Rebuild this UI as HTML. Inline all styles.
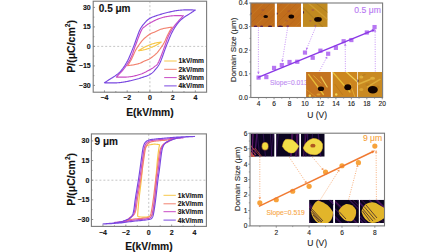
<!DOCTYPE html><html><head><meta charset="utf-8"><style>html,body{margin:0;padding:0;background:#fff;width:448px;height:252px;overflow:hidden;position:relative}</style></head><body><svg width="448" height="252" viewBox="0 0 448 252" style="position:absolute;left:0;top:0"><rect width="448" height="252" fill="#fff"/><g><line x1="93.2" y1="46.4" x2="206.6" y2="46.4" stroke="#b8b8b8" stroke-width="0.8" stroke-dasharray="2 2"/><line x1="149.9" y1="1.2" x2="149.9" y2="92.2" stroke="#b8b8b8" stroke-width="0.8" stroke-dasharray="2 2"/><path d="M161.26 42.11 L160.69 42.17 L160.12 42.23 L159.56 42.3 L158.99 42.38 L158.42 42.47 L157.85 42.57 L157.28 42.67 L156.72 42.79 L156.15 42.91 L155.58 43.04 L155.01 43.17 L154.44 43.32 L153.88 43.47 L153.31 43.63 L152.74 43.8 L152.17 43.98 L151.6 44.17 L151.04 44.36 L150.47 44.56 L149.9 44.77 L149.33 44.99 L148.76 45.22 L148.2 45.46 L147.63 45.7 L147.06 45.95 L146.49 46.21 L145.92 46.48 L145.36 46.75 L144.79 47.03 L144.22 47.33 L143.65 47.63 L143.08 47.93 L142.52 48.25 L141.95 48.57 L141.38 48.91 L140.81 49.25 L140.24 49.6 L139.68 49.95 L139.11 50.32 L138.54 50.69 L139.11 50.63 L139.68 50.57 L140.24 50.5 L140.81 50.42 L141.38 50.33 L141.95 50.23 L142.52 50.13 L143.08 50.01 L143.65 49.89 L144.22 49.76 L144.79 49.63 L145.36 49.48 L145.92 49.33 L146.49 49.17 L147.06 49 L147.63 48.82 L148.2 48.63 L148.76 48.44 L149.33 48.24 L149.9 48.02 L150.47 47.81 L151.04 47.58 L151.6 47.34 L152.17 47.1 L152.74 46.85 L153.31 46.59 L153.88 46.32 L154.44 46.05 L155.01 45.77 L155.58 45.47 L156.15 45.17 L156.72 44.87 L157.28 44.55 L157.85 44.23 L158.42 43.89 L158.99 43.55 L159.56 43.2 L160.12 42.85 L160.69 42.48 Z" fill="none" stroke="#f7c84a" stroke-width="1.15" stroke-linejoin="round"/><path d="M172.17 27.16 L171.78 27.21 L171.29 27.28 L170.7 27.35 L170.05 27.43 L169.34 27.53 L168.6 27.62 L167.86 27.73 L167.13 27.84 L166.44 27.95 L165.8 28.07 L165.21 28.19 L164.62 28.31 L164.04 28.43 L163.47 28.55 L162.9 28.69 L162.34 28.83 L161.78 28.98 L161.23 29.14 L160.68 29.31 L160.12 29.5 L159.57 29.71 L159.03 29.93 L158.48 30.17 L157.94 30.43 L157.4 30.69 L156.87 30.95 L156.34 31.22 L155.82 31.48 L155.3 31.73 L154.78 31.97 L154.29 32.19 L153.81 32.38 L153.35 32.55 L152.89 32.72 L152.43 32.89 L151.97 33.07 L151.49 33.29 L150.99 33.53 L150.46 33.83 L149.9 34.18 L149.29 34.59 L148.63 35.04 L147.94 35.54 L147.23 36.07 L146.51 36.63 L145.78 37.21 L145.06 37.8 L144.37 38.41 L143.71 39.03 L143.08 39.64 L142.49 40.27 L141.92 40.94 L141.35 41.63 L140.81 42.34 L140.28 43.06 L139.77 43.77 L139.28 44.47 L138.82 45.15 L138.38 45.8 L137.97 46.4 L137.6 46.95 L137.27 47.44 L136.98 47.89 L136.71 48.31 L136.46 48.73 L136.22 49.15 L135.97 49.6 L135.71 50.08 L135.44 50.61 L135.13 51.21 L134.8 51.88 L134.46 52.62 L134.11 53.4 L133.75 54.23 L133.38 55.07 L133.01 55.92 L132.63 56.77 L132.25 57.6 L131.87 58.39 L131.5 59.14 L131.1 59.88 L130.68 60.64 L130.23 61.4 L129.78 62.15 L129.34 62.89 L128.91 63.58 L128.52 64.21 L128.16 64.78 L127.87 65.26 L127.63 65.64 L127.63 65.64 L128.02 65.59 L128.51 65.52 L129.1 65.45 L129.75 65.37 L130.46 65.27 L131.2 65.18 L131.94 65.07 L132.67 64.96 L133.36 64.85 L134 64.73 L134.59 64.61 L135.18 64.49 L135.76 64.37 L136.33 64.25 L136.9 64.11 L137.46 63.97 L138.02 63.82 L138.57 63.66 L139.12 63.49 L139.68 63.3 L140.23 63.09 L140.77 62.87 L141.32 62.63 L141.86 62.37 L142.4 62.11 L142.93 61.85 L143.46 61.58 L143.98 61.32 L144.5 61.07 L145.02 60.83 L145.51 60.61 L145.99 60.42 L146.45 60.25 L146.91 60.08 L147.37 59.91 L147.83 59.73 L148.31 59.51 L148.81 59.27 L149.34 58.97 L149.9 58.62 L150.51 58.21 L151.17 57.76 L151.86 57.26 L152.57 56.73 L153.29 56.17 L154.02 55.59 L154.74 55 L155.43 54.39 L156.09 53.77 L156.72 53.16 L157.31 52.53 L157.88 51.86 L158.45 51.17 L158.99 50.46 L159.52 49.74 L160.03 49.03 L160.52 48.33 L160.98 47.65 L161.42 47 L161.83 46.4 L162.2 45.85 L162.53 45.36 L162.82 44.91 L163.09 44.49 L163.34 44.07 L163.58 43.65 L163.83 43.2 L164.09 42.72 L164.36 42.19 L164.67 41.59 L165 40.92 L165.34 40.18 L165.69 39.4 L166.05 38.57 L166.42 37.73 L166.79 36.88 L167.17 36.03 L167.55 35.2 L167.93 34.41 L168.3 33.66 L168.7 32.92 L169.12 32.16 L169.57 31.4 L170.02 30.65 L170.46 29.91 L170.89 29.22 L171.28 28.59 L171.64 28.02 L171.93 27.54 L172.17 27.16 Z" fill="none" stroke="#f2826f" stroke-width="1.15" stroke-linejoin="round"/><path d="M183.41 15.72 L182.83 15.72 L182.07 15.7 L181.17 15.69 L180.16 15.67 L179.08 15.65 L177.96 15.65 L176.83 15.64 L175.73 15.65 L174.7 15.68 L173.76 15.72 L172.89 15.78 L172.06 15.84 L171.25 15.91 L170.45 16 L169.67 16.09 L168.9 16.2 L168.14 16.32 L167.37 16.45 L166.59 16.6 L165.8 16.76 L165.01 16.93 L164.21 17.12 L163.42 17.31 L162.62 17.52 L161.83 17.74 L161.03 17.98 L160.24 18.23 L159.44 18.5 L158.65 18.79 L157.85 19.1 L157.04 19.44 L156.21 19.81 L155.36 20.22 L154.51 20.64 L153.66 21.07 L152.84 21.51 L152.04 21.94 L151.27 22.36 L150.56 22.76 L149.9 23.13 L149.31 23.47 L148.76 23.77 L148.27 24.06 L147.81 24.34 L147.38 24.61 L146.97 24.88 L146.57 25.16 L146.17 25.46 L145.77 25.77 L145.36 26.12 L144.95 26.44 L144.56 26.71 L144.19 26.94 L143.83 27.18 L143.47 27.45 L143.11 27.79 L142.72 28.22 L142.31 28.78 L141.87 29.5 L141.38 30.41 L140.83 31.56 L140.23 32.96 L139.58 34.55 L138.91 36.28 L138.22 38.08 L137.54 39.91 L136.87 41.71 L136.24 43.43 L135.65 45.01 L135.13 46.4 L134.68 47.62 L134.28 48.74 L133.92 49.78 L133.6 50.75 L133.29 51.66 L133 52.54 L132.71 53.38 L132.4 54.21 L132.08 55.04 L131.72 55.89 L131.35 56.74 L130.96 57.56 L130.57 58.36 L130.17 59.15 L129.76 59.91 L129.35 60.66 L128.93 61.4 L128.51 62.13 L128.07 62.85 L127.63 63.56 L127.19 64.26 L126.75 64.93 L126.31 65.58 L125.86 66.22 L125.4 66.85 L124.93 67.48 L124.44 68.11 L123.94 68.75 L123.41 69.39 L122.86 70.06 L122.26 70.77 L121.57 71.54 L120.84 72.35 L120.08 73.17 L119.33 73.98 L118.59 74.75 L117.91 75.47 L117.3 76.12 L116.78 76.66 L116.39 77.08 L116.39 77.08 L116.97 77.08 L117.73 77.1 L118.63 77.11 L119.64 77.13 L120.72 77.15 L121.84 77.15 L122.97 77.16 L124.07 77.15 L125.1 77.12 L126.04 77.08 L126.91 77.02 L127.74 76.96 L128.55 76.89 L129.35 76.8 L130.13 76.71 L130.9 76.6 L131.66 76.48 L132.43 76.35 L133.21 76.2 L134 76.04 L134.79 75.87 L135.59 75.68 L136.38 75.49 L137.18 75.28 L137.97 75.06 L138.77 74.82 L139.56 74.57 L140.36 74.3 L141.15 74.01 L141.95 73.7 L142.76 73.36 L143.59 72.99 L144.44 72.58 L145.29 72.16 L146.14 71.73 L146.96 71.29 L147.76 70.86 L148.53 70.44 L149.24 70.04 L149.9 69.67 L150.49 69.33 L151.04 69.03 L151.53 68.74 L151.99 68.46 L152.42 68.19 L152.83 67.92 L153.23 67.64 L153.63 67.34 L154.03 67.03 L154.44 66.68 L154.85 66.36 L155.24 66.09 L155.61 65.86 L155.97 65.62 L156.33 65.35 L156.69 65.01 L157.08 64.58 L157.49 64.02 L157.93 63.3 L158.42 62.39 L158.97 61.24 L159.57 59.84 L160.22 58.25 L160.89 56.52 L161.58 54.72 L162.26 52.89 L162.93 51.09 L163.56 49.37 L164.15 47.79 L164.67 46.4 L165.12 45.18 L165.52 44.06 L165.88 43.02 L166.2 42.05 L166.51 41.13 L166.8 40.26 L167.09 39.42 L167.4 38.59 L167.72 37.76 L168.08 36.91 L168.45 36.06 L168.84 35.24 L169.23 34.44 L169.63 33.65 L170.04 32.89 L170.45 32.14 L170.87 31.4 L171.29 30.67 L171.73 29.95 L172.17 29.24 L172.61 28.54 L173.05 27.87 L173.49 27.22 L173.94 26.58 L174.4 25.95 L174.87 25.32 L175.36 24.69 L175.86 24.05 L176.39 23.41 L176.94 22.74 L177.54 22.03 L178.23 21.26 L178.96 20.45 L179.72 19.63 L180.47 18.82 L181.21 18.05 L181.89 17.33 L182.5 16.68 L183.02 16.14 L183.41 15.72 Z" fill="none" stroke="#c94cc4" stroke-width="1.15" stroke-linejoin="round"/><path d="M195.34 10 L194.79 9.99 L194.09 9.97 L193.25 9.95 L192.3 9.93 L191.29 9.9 L190.24 9.88 L189.18 9.87 L188.14 9.86 L187.16 9.86 L186.25 9.87 L185.42 9.89 L184.61 9.91 L183.82 9.94 L183.04 9.98 L182.28 10.02 L181.51 10.07 L180.73 10.13 L179.94 10.2 L179.14 10.29 L178.3 10.39 L177.44 10.51 L176.56 10.64 L175.67 10.78 L174.77 10.94 L173.86 11.1 L172.94 11.28 L172.02 11.47 L171.08 11.67 L170.15 11.87 L169.21 12.08 L168.27 12.3 L167.32 12.53 L166.36 12.76 L165.39 13 L164.42 13.26 L163.45 13.52 L162.47 13.79 L161.5 14.08 L160.52 14.37 L159.56 14.68 L158.57 14.99 L157.56 15.32 L156.53 15.65 L155.5 15.99 L154.48 16.34 L153.48 16.7 L152.5 17.08 L151.58 17.48 L150.7 17.89 L149.9 18.32 L149.17 18.77 L148.49 19.23 L147.87 19.71 L147.29 20.2 L146.75 20.71 L146.23 21.23 L145.72 21.78 L145.23 22.34 L144.73 22.92 L144.22 23.52 L143.72 24.11 L143.24 24.67 L142.79 25.21 L142.34 25.77 L141.91 26.36 L141.47 27.01 L141.02 27.73 L140.56 28.54 L140.07 29.47 L139.56 30.54 L139.02 31.78 L138.46 33.18 L137.88 34.71 L137.29 36.33 L136.69 38.03 L136.08 39.76 L135.47 41.5 L134.86 43.2 L134.25 44.85 L133.66 46.4 L133.07 47.9 L132.48 49.39 L131.89 50.88 L131.31 52.35 L130.72 53.8 L130.14 55.22 L129.55 56.6 L128.95 57.94 L128.35 59.22 L127.75 60.44 L127.13 61.61 L126.51 62.74 L125.88 63.82 L125.25 64.87 L124.61 65.87 L123.97 66.82 L123.34 67.73 L122.72 68.6 L122.1 69.42 L121.5 70.19 L120.91 70.9 L120.33 71.55 L119.75 72.13 L119.19 72.67 L118.62 73.17 L118.06 73.64 L117.51 74.09 L116.95 74.52 L116.39 74.95 L115.82 75.39 L115.25 75.82 L114.68 76.22 L114.12 76.59 L113.55 76.95 L112.98 77.3 L112.41 77.64 L111.84 77.98 L111.28 78.32 L110.71 78.67 L110.14 79.03 L109.55 79.42 L108.91 79.84 L108.26 80.27 L107.6 80.71 L106.95 81.14 L106.32 81.56 L105.75 81.94 L105.23 82.29 L104.8 82.58 L104.46 82.8 L104.46 82.8 L105.01 82.81 L105.71 82.83 L106.55 82.85 L107.5 82.87 L108.51 82.9 L109.56 82.92 L110.62 82.93 L111.66 82.94 L112.64 82.94 L113.55 82.93 L114.38 82.91 L115.19 82.89 L115.98 82.86 L116.76 82.82 L117.52 82.78 L118.29 82.73 L119.07 82.67 L119.86 82.6 L120.66 82.51 L121.5 82.41 L122.36 82.29 L123.24 82.16 L124.13 82.02 L125.03 81.86 L125.94 81.69 L126.86 81.52 L127.78 81.33 L128.72 81.13 L129.65 80.93 L130.59 80.72 L131.53 80.5 L132.48 80.27 L133.44 80.04 L134.41 79.8 L135.38 79.54 L136.35 79.28 L137.33 79.01 L138.3 78.72 L139.28 78.43 L140.24 78.12 L141.23 77.81 L142.24 77.48 L143.27 77.15 L144.3 76.81 L145.32 76.46 L146.32 76.1 L147.3 75.72 L148.22 75.32 L149.1 74.91 L149.9 74.48 L150.63 74.03 L151.31 73.57 L151.93 73.09 L152.51 72.6 L153.05 72.09 L153.57 71.57 L154.08 71.02 L154.57 70.46 L155.07 69.88 L155.58 69.28 L156.08 68.69 L156.56 68.13 L157.01 67.59 L157.46 67.03 L157.89 66.44 L158.33 65.79 L158.78 65.07 L159.24 64.26 L159.73 63.33 L160.24 62.26 L160.78 61.02 L161.34 59.62 L161.92 58.09 L162.51 56.47 L163.11 54.77 L163.72 53.04 L164.33 51.3 L164.94 49.6 L165.55 47.95 L166.14 46.4 L166.73 44.9 L167.32 43.41 L167.91 41.92 L168.49 40.45 L169.08 39 L169.66 37.58 L170.25 36.2 L170.85 34.86 L171.45 33.58 L172.05 32.36 L172.67 31.19 L173.29 30.06 L173.92 28.98 L174.55 27.93 L175.19 26.93 L175.83 25.98 L176.46 25.07 L177.08 24.2 L177.7 23.38 L178.3 22.61 L178.89 21.9 L179.47 21.25 L180.05 20.67 L180.61 20.13 L181.18 19.63 L181.74 19.16 L182.29 18.71 L182.85 18.28 L183.41 17.85 L183.98 17.41 L184.55 16.98 L185.12 16.58 L185.68 16.21 L186.25 15.85 L186.82 15.5 L187.39 15.16 L187.96 14.82 L188.52 14.48 L189.09 14.13 L189.66 13.77 L190.25 13.38 L190.89 12.96 L191.54 12.53 L192.2 12.09 L192.86 11.66 L193.48 11.24 L194.05 10.86 L194.57 10.51 L195 10.22 L195.34 10 Z" fill="none" stroke="#7a48e0" stroke-width="1.15" stroke-linejoin="round"/><rect x="93.2" y="1.2" width="113.4" height="91" fill="none" stroke="#7a7a7a" stroke-width="1.1"/><line x1="93.2" y1="85.4" x2="95" y2="85.4" stroke="#7a7a7a" stroke-width="0.8"/><text x="90.7" y="87.9" text-anchor="end" font-size="7" font-weight="bold" font-family="'Liberation Sans', sans-serif" fill="#111" stroke="#111" stroke-width="0.12">−30</text><line x1="93.2" y1="65.9" x2="95" y2="65.9" stroke="#7a7a7a" stroke-width="0.8"/><text x="90.7" y="68.4" text-anchor="end" font-size="7" font-weight="bold" font-family="'Liberation Sans', sans-serif" fill="#111" stroke="#111" stroke-width="0.12">−15</text><line x1="93.2" y1="46.4" x2="95" y2="46.4" stroke="#7a7a7a" stroke-width="0.8"/><text x="90.7" y="48.9" text-anchor="end" font-size="7" font-weight="bold" font-family="'Liberation Sans', sans-serif" fill="#111" stroke="#111" stroke-width="0.12">0</text><line x1="93.2" y1="26.9" x2="95" y2="26.9" stroke="#7a7a7a" stroke-width="0.8"/><text x="90.7" y="29.4" text-anchor="end" font-size="7" font-weight="bold" font-family="'Liberation Sans', sans-serif" fill="#111" stroke="#111" stroke-width="0.12">15</text><line x1="93.2" y1="7.4" x2="95" y2="7.4" stroke="#7a7a7a" stroke-width="0.8"/><text x="90.7" y="9.9" text-anchor="end" font-size="7" font-weight="bold" font-family="'Liberation Sans', sans-serif" fill="#111" stroke="#111" stroke-width="0.12">30</text><line x1="93.2" y1="75.65" x2="94.4" y2="75.65" stroke="#7a7a7a" stroke-width="0.7"/><line x1="93.2" y1="56.15" x2="94.4" y2="56.15" stroke="#7a7a7a" stroke-width="0.7"/><line x1="93.2" y1="36.65" x2="94.4" y2="36.65" stroke="#7a7a7a" stroke-width="0.7"/><line x1="93.2" y1="17.15" x2="94.4" y2="17.15" stroke="#7a7a7a" stroke-width="0.7"/><line x1="104.46" y1="92.2" x2="104.46" y2="90.4" stroke="#7a7a7a" stroke-width="0.8"/><text x="104.46" y="100.3" text-anchor="middle" font-size="7" font-weight="bold" font-family="'Liberation Sans', sans-serif" fill="#111" stroke="#111" stroke-width="0.12">−4</text><line x1="127.18" y1="92.2" x2="127.18" y2="90.4" stroke="#7a7a7a" stroke-width="0.8"/><text x="127.18" y="100.3" text-anchor="middle" font-size="7" font-weight="bold" font-family="'Liberation Sans', sans-serif" fill="#111" stroke="#111" stroke-width="0.12">−2</text><line x1="149.9" y1="92.2" x2="149.9" y2="90.4" stroke="#7a7a7a" stroke-width="0.8"/><text x="149.9" y="100.3" text-anchor="middle" font-size="7" font-weight="bold" font-family="'Liberation Sans', sans-serif" fill="#111" stroke="#111" stroke-width="0.12">0</text><line x1="172.62" y1="92.2" x2="172.62" y2="90.4" stroke="#7a7a7a" stroke-width="0.8"/><text x="172.62" y="100.3" text-anchor="middle" font-size="7" font-weight="bold" font-family="'Liberation Sans', sans-serif" fill="#111" stroke="#111" stroke-width="0.12">2</text><line x1="195.34" y1="92.2" x2="195.34" y2="90.4" stroke="#7a7a7a" stroke-width="0.8"/><text x="195.34" y="100.3" text-anchor="middle" font-size="7" font-weight="bold" font-family="'Liberation Sans', sans-serif" fill="#111" stroke="#111" stroke-width="0.12">4</text><line x1="115.82" y1="92.2" x2="115.82" y2="91" stroke="#7a7a7a" stroke-width="0.7"/><line x1="138.54" y1="92.2" x2="138.54" y2="91" stroke="#7a7a7a" stroke-width="0.7"/><line x1="161.26" y1="92.2" x2="161.26" y2="91" stroke="#7a7a7a" stroke-width="0.7"/><line x1="183.98" y1="92.2" x2="183.98" y2="91" stroke="#7a7a7a" stroke-width="0.7"/><text x="98.8" y="12.2" font-size="10" font-weight="bold" font-family="'Liberation Sans', sans-serif" fill="#111" stroke="#111" stroke-width="0.12">0.5 μm</text><line x1="164.2" y1="61" x2="176.7" y2="61" stroke="#f7c84a" stroke-width="1"/><text x="178.6" y="63.4" font-size="6.6" font-weight="bold" font-family="'Liberation Sans', sans-serif" fill="#111" stroke="#111" stroke-width="0.12">1kV/mm</text><line x1="164.2" y1="69.3" x2="176.7" y2="69.3" stroke="#f2826f" stroke-width="1"/><text x="178.6" y="71.7" font-size="6.6" font-weight="bold" font-family="'Liberation Sans', sans-serif" fill="#111" stroke="#111" stroke-width="0.12">2kV/mm</text><line x1="164.2" y1="77.6" x2="176.7" y2="77.6" stroke="#c94cc4" stroke-width="1"/><text x="178.6" y="80" font-size="6.6" font-weight="bold" font-family="'Liberation Sans', sans-serif" fill="#111" stroke="#111" stroke-width="0.12">3kV/mm</text><line x1="164.2" y1="85.9" x2="176.7" y2="85.9" stroke="#7a48e0" stroke-width="1"/><text x="178.6" y="88.3" font-size="6.6" font-weight="bold" font-family="'Liberation Sans', sans-serif" fill="#111" stroke="#111" stroke-width="0.12">4kV/mm</text><text transform="translate(71.6 46.4) rotate(-90)" x="0" y="3.8" text-anchor="middle" font-size="10.5" font-weight="bold" font-family="'Liberation Sans', sans-serif" fill="#111" stroke="#111" stroke-width="0.12">P/(μC/cm<tspan font-size="6.5" dy="-5">2</tspan><tspan dy="5">)</tspan></text><text x="149.9" y="116.3" text-anchor="middle" font-size="10.3" font-weight="bold" font-family="'Liberation Sans', sans-serif" fill="#111" stroke="#111" stroke-width="0.12">E(kV/mm)</text></g><g><line x1="91.4" y1="180.2" x2="206.4" y2="180.2" stroke="#b8b8b8" stroke-width="0.8" stroke-dasharray="2 2"/><line x1="148.75" y1="133.9" x2="148.75" y2="226.4" stroke="#b8b8b8" stroke-width="0.8" stroke-dasharray="2 2"/><path d="M159.63 144.7 L159.29 144.66 L158.87 144.6 L158.36 144.52 L157.8 144.43 L157.19 144.35 L156.54 144.27 L155.88 144.2 L155.21 144.16 L154.54 144.15 L153.9 144.17 L153.25 144.24 L152.54 144.32 L151.8 144.43 L151.04 144.57 L150.28 144.72 L149.54 144.88 L148.84 145.05 L148.2 145.24 L147.63 145.43 L147.15 145.62 L146.76 145.81 L146.45 146.03 L146.21 146.25 L146.02 146.49 L145.87 146.73 L145.75 146.98 L145.64 147.23 L145.54 147.48 L145.44 147.73 L145.31 147.97 L145.19 148.18 L145.08 148.32 L144.99 148.43 L144.91 148.53 L144.84 148.65 L144.76 148.81 L144.69 149.05 L144.6 149.38 L144.51 149.85 L144.4 150.46 L144.27 151.22 L144.14 152.08 L144 153.05 L143.85 154.1 L143.7 155.24 L143.54 156.46 L143.38 157.76 L143.22 159.11 L143.07 160.53 L142.91 161.99 L142.76 163.54 L142.61 165.21 L142.46 166.98 L142.31 168.81 L142.15 170.7 L142 172.62 L141.83 174.56 L141.67 176.48 L141.49 178.36 L141.31 180.2 L141.11 182.03 L140.89 183.9 L140.66 185.79 L140.42 187.68 L140.18 189.56 L139.95 191.4 L139.72 193.18 L139.5 194.9 L139.31 196.51 L139.13 198.02 L138.98 199.41 L138.84 200.73 L138.72 201.97 L138.61 203.13 L138.51 204.24 L138.42 205.28 L138.33 206.28 L138.25 207.23 L138.18 208.14 L138.1 209.02 L138.03 209.87 L137.97 210.68 L137.91 211.45 L137.86 212.18 L137.81 212.85 L137.77 213.47 L137.73 214.03 L137.7 214.53 L137.67 214.96 L137.64 215.31 L137.64 215.31 L137.67 215.4 L137.68 215.52 L137.67 215.67 L137.66 215.84 L137.68 216.01 L137.73 216.19 L137.84 216.36 L138.03 216.51 L138.3 216.65 L138.67 216.75 L139.19 216.83 L139.83 216.9 L140.58 216.97 L141.41 217.02 L142.28 217.06 L143.17 217.09 L144.05 217.09 L144.9 217.09 L145.67 217.06 L146.35 217.01 L146.95 216.94 L147.52 216.85 L148.06 216.73 L148.57 216.6 L149.05 216.45 L149.5 216.29 L149.93 216.12 L150.32 215.94 L150.7 215.76 L151.04 215.57 L151.35 215.43 L151.61 215.36 L151.83 215.33 L152.02 215.31 L152.19 215.25 L152.34 215.12 L152.49 214.89 L152.64 214.52 L152.8 213.97 L152.99 213.21 L153.19 212.22 L153.39 211.04 L153.6 209.68 L153.81 208.18 L154.02 206.58 L154.23 204.9 L154.42 203.17 L154.61 201.43 L154.78 199.7 L154.93 198.02 L155.06 196.34 L155.17 194.63 L155.27 192.88 L155.35 191.1 L155.43 189.3 L155.5 187.48 L155.57 185.66 L155.65 183.83 L155.74 182.01 L155.85 180.2 L155.97 178.37 L156.09 176.48 L156.23 174.57 L156.37 172.64 L156.51 170.73 L156.65 168.84 L156.8 167 L156.94 165.24 L157.08 163.56 L157.22 161.99 L157.36 160.51 L157.5 159.1 L157.65 157.75 L157.79 156.46 L157.93 155.23 L158.07 154.06 L158.21 152.97 L158.34 151.93 L158.47 150.97 L158.6 150.07 L158.72 149.24 L158.84 148.49 L158.96 147.81 L159.08 147.19 L159.2 146.64 L159.31 146.15 L159.4 145.71 L159.49 145.32 L159.57 144.99 L159.63 144.7 Z" fill="none" stroke="#f7c84a" stroke-width="1.15" stroke-linejoin="round"/><path d="M171.65 139.59 L171.5 139.58 L171.31 139.56 L171.09 139.54 L170.84 139.51 L170.57 139.49 L170.28 139.47 L170 139.45 L169.73 139.44 L169.46 139.45 L169.23 139.46 L169.05 139.49 L168.94 139.53 L168.87 139.57 L168.82 139.62 L168.75 139.68 L168.64 139.75 L168.45 139.81 L168.17 139.89 L167.75 139.96 L167.18 140.04 L166.41 140.12 L165.45 140.22 L164.33 140.31 L163.1 140.42 L161.82 140.52 L160.52 140.63 L159.25 140.74 L158.06 140.84 L156.98 140.95 L156.08 141.04 L155.32 141.13 L154.66 141.21 L154.07 141.27 L153.55 141.34 L153.08 141.41 L152.65 141.48 L152.24 141.57 L151.85 141.66 L151.45 141.78 L151.04 141.92 L150.62 142.07 L150.22 142.24 L149.84 142.42 L149.47 142.61 L149.12 142.81 L148.79 143.03 L148.47 143.26 L148.16 143.5 L147.88 143.77 L147.6 144.04 L147.35 144.34 L147.12 144.65 L146.91 144.98 L146.72 145.32 L146.54 145.68 L146.37 146.05 L146.21 146.44 L146.06 146.83 L145.92 147.25 L145.77 147.67 L145.64 148.09 L145.52 148.5 L145.42 148.91 L145.33 149.33 L145.24 149.77 L145.15 150.24 L145.06 150.76 L144.97 151.33 L144.86 151.96 L144.74 152.68 L144.62 153.46 L144.49 154.29 L144.35 155.17 L144.22 156.1 L144.08 157.09 L143.93 158.12 L143.77 159.21 L143.61 160.36 L143.44 161.56 L143.25 162.81 L143.06 164.13 L142.86 165.51 L142.66 166.95 L142.45 168.44 L142.22 169.99 L141.99 171.58 L141.75 173.22 L141.5 174.89 L141.24 176.59 L140.96 178.32 L140.67 180.14 L140.34 182.07 L139.99 184.09 L139.63 186.16 L139.27 188.25 L138.91 190.31 L138.55 192.33 L138.22 194.25 L137.92 196.06 L137.64 197.71 L137.41 199.24 L137.2 200.68 L137.02 202.04 L136.86 203.33 L136.71 204.55 L136.56 205.69 L136.42 206.77 L136.27 207.78 L136.1 208.72 L135.93 209.6 L135.74 210.4 L135.56 211.1 L135.39 211.71 L135.21 212.26 L135.03 212.74 L134.83 213.18 L134.62 213.58 L134.4 213.97 L134.14 214.35 L133.87 214.73 L133.54 215.1 L133.18 215.42 L132.78 215.71 L132.36 215.98 L131.93 216.22 L131.51 216.45 L131.09 216.68 L130.7 216.91 L130.35 217.14 L130.05 217.39 L129.8 217.66 L129.59 217.94 L129.41 218.23 L129.25 218.51 L129.12 218.8 L128.99 219.07 L128.85 219.33 L128.71 219.57 L128.54 219.78 L128.35 219.97 L128.12 220.13 L127.86 220.26 L127.58 220.38 L127.29 220.47 L126.99 220.55 L126.71 220.62 L126.44 220.67 L126.2 220.72 L126 220.77 L125.85 220.81 L125.85 220.81 L126 220.81 L126.18 220.82 L126.39 220.83 L126.64 220.84 L126.9 220.84 L127.18 220.85 L127.47 220.84 L127.76 220.81 L128.06 220.77 L128.35 220.71 L128.59 220.63 L128.77 220.52 L128.91 220.4 L129.06 220.27 L129.22 220.12 L129.45 219.97 L129.77 219.81 L130.21 219.66 L130.8 219.5 L131.57 219.36 L132.6 219.22 L133.89 219.07 L135.38 218.93 L137 218.79 L138.68 218.64 L140.37 218.49 L142 218.34 L143.51 218.18 L144.82 218.02 L145.89 217.86 L146.72 217.7 L147.39 217.57 L147.92 217.44 L148.34 217.32 L148.68 217.18 L148.95 217.03 L149.19 216.84 L149.4 216.61 L149.63 216.33 L149.9 215.98 L150.16 215.59 L150.38 215.19 L150.57 214.77 L150.74 214.31 L150.88 213.8 L151.02 213.24 L151.15 212.61 L151.29 211.9 L151.44 211.11 L151.61 210.23 L151.8 209.24 L151.99 208.15 L152.18 206.98 L152.37 205.74 L152.56 204.42 L152.76 203.06 L152.96 201.64 L153.16 200.19 L153.36 198.71 L153.56 197.21 L153.76 195.64 L153.97 193.96 L154.19 192.18 L154.4 190.36 L154.62 188.52 L154.83 186.69 L155.04 184.92 L155.24 183.22 L155.44 181.64 L155.62 180.2 L155.79 178.93 L155.95 177.79 L156.11 176.76 L156.25 175.81 L156.39 174.91 L156.53 174.03 L156.67 173.15 L156.81 172.23 L156.96 171.26 L157.11 170.19 L157.26 169.03 L157.42 167.8 L157.58 166.52 L157.75 165.21 L157.91 163.89 L158.07 162.58 L158.24 161.29 L158.4 160.06 L158.56 158.89 L158.71 157.81 L158.86 156.8 L158.99 155.84 L159.12 154.92 L159.25 154.04 L159.38 153.21 L159.51 152.41 L159.66 151.65 L159.82 150.92 L160 150.22 L160.2 149.55 L160.42 148.91 L160.66 148.32 L160.9 147.76 L161.16 147.24 L161.44 146.75 L161.73 146.29 L162.03 145.85 L162.36 145.44 L162.7 145.05 L163.06 144.67 L163.46 144.32 L163.92 144.01 L164.4 143.73 L164.91 143.48 L165.43 143.25 L165.94 143.03 L166.43 142.82 L166.89 142.61 L167.3 142.4 L167.64 142.18 L167.92 141.94 L168.14 141.71 L168.31 141.47 L168.45 141.23 L168.57 141 L168.68 140.78 L168.78 140.58 L168.9 140.39 L169.05 140.22 L169.23 140.08 L169.45 139.96 L169.7 139.87 L169.97 139.8 L170.25 139.74 L170.54 139.7 L170.81 139.67 L171.07 139.65 L171.31 139.63 L171.5 139.61 L171.65 139.59 Z" fill="none" stroke="#f2826f" stroke-width="1.15" stroke-linejoin="round"/><path d="M183.1 137.89 L182.6 137.9 L181.95 137.91 L181.18 137.92 L180.32 137.94 L179.39 137.96 L178.42 137.98 L177.44 138.01 L176.46 138.05 L175.51 138.09 L174.62 138.14 L173.77 138.21 L172.95 138.29 L172.13 138.37 L171.31 138.46 L170.49 138.56 L169.66 138.66 L168.8 138.77 L167.92 138.87 L167 138.97 L166.04 139.07 L165 139.17 L163.88 139.28 L162.7 139.38 L161.49 139.48 L160.27 139.59 L159.06 139.69 L157.9 139.8 L156.81 139.9 L155.81 140 L154.93 140.1 L154.18 140.19 L153.51 140.27 L152.93 140.34 L152.4 140.41 L151.93 140.48 L151.5 140.55 L151.1 140.64 L150.7 140.74 L150.31 140.85 L149.9 141 L149.48 141.15 L149.08 141.32 L148.7 141.51 L148.33 141.7 L147.98 141.91 L147.64 142.13 L147.32 142.37 L147.02 142.62 L146.73 142.89 L146.46 143.17 L146.21 143.48 L145.98 143.8 L145.77 144.13 L145.57 144.48 L145.39 144.85 L145.23 145.23 L145.07 145.62 L144.92 146.03 L144.77 146.45 L144.63 146.89 L144.49 147.32 L144.38 147.74 L144.27 148.16 L144.18 148.59 L144.09 149.04 L144 149.52 L143.92 150.05 L143.82 150.63 L143.72 151.28 L143.6 152.01 L143.47 152.81 L143.34 153.67 L143.21 154.57 L143.07 155.52 L142.93 156.53 L142.78 157.59 L142.63 158.71 L142.47 159.88 L142.29 161.11 L142.11 162.39 L141.92 163.74 L141.72 165.15 L141.51 166.63 L141.3 168.16 L141.08 169.74 L140.85 171.37 L140.61 173.05 L140.36 174.76 L140.09 176.5 L139.82 178.28 L139.52 180.14 L139.2 182.12 L138.85 184.19 L138.49 186.3 L138.12 188.44 L137.76 190.56 L137.41 192.62 L137.08 194.59 L136.77 196.44 L136.5 198.14 L136.26 199.7 L136.06 201.17 L135.88 202.57 L135.71 203.89 L135.56 205.13 L135.42 206.31 L135.27 207.41 L135.12 208.44 L134.96 209.41 L134.78 210.31 L134.6 211.12 L134.42 211.84 L134.24 212.47 L134.06 213.03 L133.87 213.52 L133.67 213.97 L133.46 214.38 L133.24 214.78 L132.99 215.17 L132.72 215.56 L132.43 215.94 L132.13 216.27 L131.82 216.57 L131.49 216.85 L131.15 217.1 L130.79 217.34 L130.4 217.58 L129.99 217.82 L129.56 218.07 L129.09 218.34 L128.61 218.64 L128.1 218.94 L127.57 219.26 L127.02 219.57 L126.44 219.89 L125.84 220.2 L125.21 220.49 L124.56 220.77 L123.87 221.02 L123.15 221.24 L122.35 221.44 L121.44 221.62 L120.46 221.79 L119.43 221.93 L118.4 222.06 L117.4 222.18 L116.47 222.28 L115.63 222.37 L114.93 222.44 L114.4 222.51 L114.4 222.51 L114.92 222.49 L115.58 222.46 L116.36 222.44 L117.23 222.41 L118.18 222.37 L119.17 222.32 L120.19 222.26 L121.21 222.2 L122.2 222.11 L123.15 222.01 L124.05 221.89 L124.94 221.74 L125.81 221.58 L126.69 221.4 L127.59 221.22 L128.51 221.03 L129.47 220.84 L130.49 220.65 L131.57 220.47 L132.72 220.3 L134.01 220.14 L135.44 219.99 L136.99 219.84 L138.6 219.69 L140.22 219.55 L141.82 219.4 L143.35 219.25 L144.75 219.09 L146 218.93 L147.03 218.76 L147.86 218.6 L148.53 218.47 L149.06 218.34 L149.49 218.21 L149.82 218.07 L150.1 217.91 L150.33 217.72 L150.55 217.49 L150.78 217.2 L151.04 216.84 L151.3 216.45 L151.53 216.04 L151.72 215.6 L151.88 215.13 L152.03 214.61 L152.16 214.03 L152.3 213.39 L152.44 212.67 L152.59 211.86 L152.76 210.95 L152.94 209.94 L153.13 208.82 L153.32 207.63 L153.51 206.35 L153.71 205.01 L153.91 203.61 L154.1 202.16 L154.3 200.67 L154.5 199.16 L154.7 197.62 L154.91 196.02 L155.12 194.29 L155.33 192.47 L155.55 190.61 L155.76 188.72 L155.98 186.85 L156.19 185.03 L156.39 183.29 L156.58 181.67 L156.76 180.2 L156.94 178.9 L157.1 177.73 L157.25 176.67 L157.4 175.7 L157.54 174.78 L157.68 173.88 L157.82 172.98 L157.96 172.04 L158.1 171.04 L158.25 169.95 L158.41 168.76 L158.57 167.5 L158.73 166.19 L158.89 164.85 L159.06 163.5 L159.22 162.15 L159.38 160.84 L159.54 159.57 L159.7 158.37 L159.86 157.27 L160 156.23 L160.14 155.25 L160.27 154.31 L160.39 153.41 L160.52 152.56 L160.66 151.74 L160.8 150.96 L160.96 150.21 L161.14 149.5 L161.34 148.81 L161.57 148.16 L161.8 147.55 L162.04 146.98 L162.29 146.45 L162.57 145.95 L162.85 145.48 L163.16 145.03 L163.48 144.61 L163.83 144.2 L164.21 143.81 L164.61 143.45 L165.04 143.13 L165.5 142.84 L165.98 142.58 L166.47 142.33 L166.98 142.1 L167.5 141.88 L168.03 141.65 L168.55 141.42 L169.07 141.18 L169.59 140.92 L170.09 140.66 L170.59 140.39 L171.1 140.13 L171.62 139.87 L172.16 139.62 L172.72 139.38 L173.31 139.16 L173.94 138.96 L174.62 138.78 L175.38 138.63 L176.26 138.49 L177.21 138.37 L178.21 138.27 L179.21 138.18 L180.18 138.11 L181.09 138.04 L181.9 137.98 L182.58 137.93 L183.1 137.89 Z" fill="none" stroke="#c94cc4" stroke-width="1.15" stroke-linejoin="round"/><path d="M194.55 136.45 L193.69 136.47 L192.58 136.51 L191.27 136.54 L189.81 136.59 L188.22 136.63 L186.56 136.69 L184.87 136.75 L183.19 136.81 L181.55 136.89 L180.01 136.97 L178.5 137.06 L176.96 137.17 L175.39 137.28 L173.81 137.4 L172.24 137.53 L170.68 137.66 L169.15 137.78 L167.67 137.91 L166.25 138.03 L164.89 138.15 L163.59 138.26 L162.32 138.37 L161.08 138.48 L159.87 138.58 L158.71 138.69 L157.6 138.79 L156.55 138.9 L155.56 139 L154.63 139.1 L153.79 139.2 L153.03 139.29 L152.37 139.37 L151.78 139.44 L151.26 139.51 L150.79 139.58 L150.36 139.66 L149.95 139.75 L149.56 139.85 L149.16 139.97 L148.75 140.11 L148.33 140.28 L147.93 140.45 L147.55 140.64 L147.18 140.84 L146.83 141.05 L146.5 141.27 L146.18 141.52 L145.87 141.77 L145.59 142.05 L145.31 142.34 L145.06 142.65 L144.83 142.98 L144.62 143.32 L144.43 143.68 L144.25 144.05 L144.08 144.44 L143.92 144.84 L143.77 145.26 L143.63 145.69 L143.48 146.14 L143.35 146.58 L143.23 147.01 L143.13 147.44 L143.04 147.87 L142.95 148.33 L142.86 148.83 L142.77 149.37 L142.68 149.97 L142.57 150.63 L142.45 151.38 L142.33 152.2 L142.2 153.07 L142.06 153.99 L141.93 154.97 L141.79 156 L141.64 157.08 L141.48 158.22 L141.32 159.42 L141.15 160.68 L140.96 161.99 L140.77 163.37 L140.57 164.81 L140.37 166.32 L140.16 167.89 L139.93 169.51 L139.7 171.17 L139.46 172.89 L139.21 174.64 L138.95 176.42 L138.67 178.23 L138.38 180.14 L138.05 182.16 L137.7 184.28 L137.34 186.44 L136.98 188.62 L136.62 190.79 L136.26 192.9 L135.93 194.92 L135.63 196.81 L135.35 198.54 L135.12 200.13 L134.91 201.65 L134.73 203.07 L134.57 204.42 L134.42 205.7 L134.27 206.89 L134.13 208.02 L133.98 209.07 L133.81 210.06 L133.64 210.98 L133.45 211.82 L133.27 212.55 L133.09 213.19 L132.9 213.76 L132.71 214.27 L132.51 214.73 L132.31 215.15 L132.08 215.55 L131.84 215.95 L131.57 216.36 L131.32 216.74 L131.08 217.09 L130.86 217.4 L130.62 217.68 L130.37 217.94 L130.07 218.19 L129.71 218.43 L129.28 218.68 L128.76 218.95 L128.14 219.24 L127.42 219.55 L126.61 219.88 L125.73 220.21 L124.78 220.55 L123.77 220.89 L122.7 221.23 L121.57 221.55 L120.4 221.85 L119.19 222.13 L117.95 222.38 L116.58 222.61 L115.02 222.82 L113.33 223.02 L111.58 223.2 L109.81 223.36 L108.1 223.51 L106.5 223.65 L105.07 223.77 L103.86 223.87 L102.95 223.95 L102.95 223.95 L103.84 223.91 L104.98 223.87 L106.32 223.81 L107.83 223.75 L109.46 223.68 L111.16 223.61 L112.91 223.52 L114.65 223.41 L116.34 223.3 L117.95 223.17 L119.51 223.02 L121.1 222.84 L122.71 222.65 L124.33 222.45 L125.95 222.23 L127.57 222.02 L129.18 221.8 L130.77 221.59 L132.33 221.39 L133.87 221.2 L135.41 221.03 L136.99 220.87 L138.6 220.71 L140.2 220.56 L141.77 220.42 L143.27 220.27 L144.69 220.12 L146 219.96 L147.17 219.8 L148.18 219.63 L149.01 219.47 L149.68 219.33 L150.21 219.2 L150.63 219.07 L150.97 218.93 L151.24 218.76 L151.48 218.57 L151.69 218.33 L151.92 218.03 L152.19 217.67 L152.45 217.26 L152.67 216.84 L152.86 216.4 L153.03 215.91 L153.17 215.38 L153.31 214.79 L153.44 214.13 L153.58 213.4 L153.73 212.57 L153.9 211.64 L154.09 210.6 L154.28 209.47 L154.47 208.24 L154.66 206.94 L154.85 205.56 L155.05 204.13 L155.25 202.65 L155.45 201.13 L155.65 199.58 L155.85 198.02 L156.05 196.37 L156.26 194.6 L156.48 192.75 L156.69 190.84 L156.91 188.91 L157.12 187 L157.33 185.14 L157.53 183.36 L157.73 181.7 L157.91 180.2 L158.08 178.87 L158.24 177.67 L158.4 176.6 L158.54 175.6 L158.68 174.66 L158.82 173.74 L158.96 172.82 L159.1 171.86 L159.25 170.84 L159.4 169.72 L159.55 168.5 L159.71 167.22 L159.87 165.88 L160.04 164.5 L160.2 163.12 L160.36 161.75 L160.53 160.4 L160.69 159.11 L160.85 157.88 L161 156.75 L161.15 155.7 L161.28 154.69 L161.41 153.73 L161.54 152.81 L161.67 151.94 L161.8 151.1 L161.95 150.3 L162.11 149.54 L162.29 148.81 L162.49 148.1 L162.71 147.44 L162.94 146.82 L163.18 146.24 L163.43 145.69 L163.69 145.18 L163.98 144.7 L164.28 144.24 L164.61 143.81 L164.97 143.4 L165.35 143 L165.76 142.62 L166.17 142.29 L166.59 141.99 L167.04 141.72 L167.51 141.46 L168.02 141.22 L168.57 140.99 L169.16 140.75 L169.8 140.5 L170.5 140.25 L171.26 139.97 L172.05 139.69 L172.88 139.4 L173.75 139.12 L174.67 138.84 L175.64 138.56 L176.65 138.3 L177.72 138.05 L178.83 137.83 L180.01 137.62 L181.32 137.44 L182.83 137.28 L184.46 137.13 L186.16 136.99 L187.87 136.87 L189.54 136.76 L191.1 136.67 L192.49 136.58 L193.66 136.51 L194.55 136.45 Z" fill="none" stroke="#7a48e0" stroke-width="1.15" stroke-linejoin="round"/><rect x="91.4" y="133.9" width="115" height="92.5" fill="none" stroke="#7a7a7a" stroke-width="1.1"/><line x1="91.4" y1="219.5" x2="93.2" y2="219.5" stroke="#7a7a7a" stroke-width="0.8"/><text x="89.4" y="222" text-anchor="end" font-size="7" font-weight="bold" font-family="'Liberation Sans', sans-serif" fill="#111" stroke="#111" stroke-width="0.12">−30</text><line x1="91.4" y1="199.85" x2="93.2" y2="199.85" stroke="#7a7a7a" stroke-width="0.8"/><text x="89.4" y="202.35" text-anchor="end" font-size="7" font-weight="bold" font-family="'Liberation Sans', sans-serif" fill="#111" stroke="#111" stroke-width="0.12">−15</text><line x1="91.4" y1="180.2" x2="93.2" y2="180.2" stroke="#7a7a7a" stroke-width="0.8"/><text x="89.4" y="182.7" text-anchor="end" font-size="7" font-weight="bold" font-family="'Liberation Sans', sans-serif" fill="#111" stroke="#111" stroke-width="0.12">0</text><line x1="91.4" y1="160.55" x2="93.2" y2="160.55" stroke="#7a7a7a" stroke-width="0.8"/><text x="89.4" y="163.05" text-anchor="end" font-size="7" font-weight="bold" font-family="'Liberation Sans', sans-serif" fill="#111" stroke="#111" stroke-width="0.12">15</text><line x1="91.4" y1="140.9" x2="93.2" y2="140.9" stroke="#7a7a7a" stroke-width="0.8"/><text x="89.4" y="143.4" text-anchor="end" font-size="7" font-weight="bold" font-family="'Liberation Sans', sans-serif" fill="#111" stroke="#111" stroke-width="0.12">30</text><line x1="91.4" y1="209.67" x2="92.6" y2="209.67" stroke="#7a7a7a" stroke-width="0.7"/><line x1="91.4" y1="190.02" x2="92.6" y2="190.02" stroke="#7a7a7a" stroke-width="0.7"/><line x1="91.4" y1="170.38" x2="92.6" y2="170.38" stroke="#7a7a7a" stroke-width="0.7"/><line x1="91.4" y1="150.72" x2="92.6" y2="150.72" stroke="#7a7a7a" stroke-width="0.7"/><line x1="102.95" y1="226.4" x2="102.95" y2="224.6" stroke="#7a7a7a" stroke-width="0.8"/><text x="102.95" y="234.9" text-anchor="middle" font-size="7" font-weight="bold" font-family="'Liberation Sans', sans-serif" fill="#111" stroke="#111" stroke-width="0.12">−4</text><line x1="125.85" y1="226.4" x2="125.85" y2="224.6" stroke="#7a7a7a" stroke-width="0.8"/><text x="125.85" y="234.9" text-anchor="middle" font-size="7" font-weight="bold" font-family="'Liberation Sans', sans-serif" fill="#111" stroke="#111" stroke-width="0.12">−2</text><line x1="148.75" y1="226.4" x2="148.75" y2="224.6" stroke="#7a7a7a" stroke-width="0.8"/><text x="148.75" y="234.9" text-anchor="middle" font-size="7" font-weight="bold" font-family="'Liberation Sans', sans-serif" fill="#111" stroke="#111" stroke-width="0.12">0</text><line x1="171.65" y1="226.4" x2="171.65" y2="224.6" stroke="#7a7a7a" stroke-width="0.8"/><text x="171.65" y="234.9" text-anchor="middle" font-size="7" font-weight="bold" font-family="'Liberation Sans', sans-serif" fill="#111" stroke="#111" stroke-width="0.12">2</text><line x1="194.55" y1="226.4" x2="194.55" y2="224.6" stroke="#7a7a7a" stroke-width="0.8"/><text x="194.55" y="234.9" text-anchor="middle" font-size="7" font-weight="bold" font-family="'Liberation Sans', sans-serif" fill="#111" stroke="#111" stroke-width="0.12">4</text><line x1="114.4" y1="226.4" x2="114.4" y2="225.2" stroke="#7a7a7a" stroke-width="0.7"/><line x1="137.3" y1="226.4" x2="137.3" y2="225.2" stroke="#7a7a7a" stroke-width="0.7"/><line x1="160.2" y1="226.4" x2="160.2" y2="225.2" stroke="#7a7a7a" stroke-width="0.7"/><line x1="183.1" y1="226.4" x2="183.1" y2="225.2" stroke="#7a7a7a" stroke-width="0.7"/><text x="94.6" y="145" font-size="10" font-weight="bold" font-family="'Liberation Sans', sans-serif" fill="#111" stroke="#111" stroke-width="0.12">9 μm</text><line x1="163.5" y1="195.3" x2="175.8" y2="195.3" stroke="#f7c84a" stroke-width="1"/><text x="177.8" y="197.7" font-size="6.6" font-weight="bold" font-family="'Liberation Sans', sans-serif" fill="#111" stroke="#111" stroke-width="0.12">1kV/mm</text><line x1="163.5" y1="203.8" x2="175.8" y2="203.8" stroke="#f2826f" stroke-width="1"/><text x="177.8" y="206.2" font-size="6.6" font-weight="bold" font-family="'Liberation Sans', sans-serif" fill="#111" stroke="#111" stroke-width="0.12">2kV/mm</text><line x1="163.5" y1="211.7" x2="175.8" y2="211.7" stroke="#c94cc4" stroke-width="1"/><text x="177.8" y="214.1" font-size="6.6" font-weight="bold" font-family="'Liberation Sans', sans-serif" fill="#111" stroke="#111" stroke-width="0.12">3kV/mm</text><line x1="163.5" y1="220.1" x2="175.8" y2="220.1" stroke="#7a48e0" stroke-width="1"/><text x="177.8" y="222.5" font-size="6.6" font-weight="bold" font-family="'Liberation Sans', sans-serif" fill="#111" stroke="#111" stroke-width="0.12">4kV/mm</text><text transform="translate(71.2 179.3) rotate(-90)" x="0" y="3.8" text-anchor="middle" font-size="10.5" font-weight="bold" font-family="'Liberation Sans', sans-serif" fill="#111" stroke="#111" stroke-width="0.12">P/(μC/cm<tspan font-size="6.5" dy="-5">2</tspan><tspan dy="5">)</tspan></text><text x="148.9" y="249.6" text-anchor="middle" font-size="10.3" font-weight="bold" font-family="'Liberation Sans', sans-serif" fill="#111" stroke="#111" stroke-width="0.12">E(kV/mm)</text></g><text x="270" y="85" text-anchor="start" font-size="6.7" font-weight="normal" font-family="'Liberation Sans', sans-serif" fill="#c08cf2"  stroke="#c08cf2" stroke-width="0.12">Slope=0.013</text><clipPath id="ct1"><rect x="250.7" y="2.7" width="24.2" height="24.2"/></clipPath><g clip-path="url(#ct1)"><rect x="250.7" y="2.7" width="24.2" height="24.2" fill="#bf6e1e"/><line x1="250.7" y1="8.75" x2="256.75" y2="2.7" stroke="#b0601a" stroke-width="1.0" opacity="0.5" stroke-linecap="round"/><line x1="250.7" y1="16.01" x2="264.01" y2="2.7" stroke="#d08a30" stroke-width="1.0" opacity="0.45" stroke-linecap="round"/><line x1="250.7" y1="23.27" x2="271.27" y2="2.7" stroke="#b0601a" stroke-width="1.0" opacity="0.5" stroke-linecap="round"/><line x1="254.33" y1="26.9" x2="274.9" y2="6.33" stroke="#d08a30" stroke-width="1.0" opacity="0.45" stroke-linecap="round"/><line x1="261.59" y1="26.9" x2="274.9" y2="13.59" stroke="#b0601a" stroke-width="1.0" opacity="0.5" stroke-linecap="round"/><line x1="268.85" y1="26.9" x2="274.9" y2="20.85" stroke="#d08a30" stroke-width="1.0" opacity="0.4" stroke-linecap="round"/><ellipse cx="250.7" cy="13.59" rx="0.8" ry="1.2" fill="#3a1040" opacity="1"/><ellipse cx="255.54" cy="26.42" rx="1.8" ry="0.9" fill="#4a1858" opacity="0.9"/><ellipse cx="261.59" cy="26.42" rx="1.5" ry="0.8" fill="#4a1858" opacity="0.8"/><ellipse cx="270.06" cy="26.42" rx="2" ry="0.9" fill="#3a1040" opacity="0.9"/><ellipse cx="262.8" cy="9.96" rx="1.5" ry="1" fill="#a05040" opacity="0.5"/><ellipse cx="261.59" cy="14.8" rx="1.2" ry="0.8" fill="#a05040" opacity="0.4"/><ellipse cx="265.7" cy="16.5" rx="2.3" ry="1.5" fill="#120400"/></g><clipPath id="ct2"><rect x="276.8" y="2.7" width="24.2" height="24.2"/></clipPath><g clip-path="url(#ct2)"><rect x="276.8" y="2.7" width="24.2" height="24.2" fill="#c2701e"/><line x1="276.8" y1="8.75" x2="282.85" y2="2.7" stroke="#b0601a" stroke-width="1.0" opacity="0.5" stroke-linecap="round"/><line x1="276.8" y1="16.01" x2="290.11" y2="2.7" stroke="#d08a30" stroke-width="1.0" opacity="0.45" stroke-linecap="round"/><line x1="276.8" y1="23.27" x2="297.37" y2="2.7" stroke="#b0601a" stroke-width="1.0" opacity="0.5" stroke-linecap="round"/><line x1="280.43" y1="26.9" x2="301" y2="6.33" stroke="#d08a30" stroke-width="1.0" opacity="0.45" stroke-linecap="round"/><line x1="287.69" y1="26.9" x2="301" y2="13.59" stroke="#b0601a" stroke-width="1.0" opacity="0.5" stroke-linecap="round"/><line x1="294.95" y1="26.9" x2="301" y2="20.85" stroke="#d08a30" stroke-width="1.0" opacity="0.4" stroke-linecap="round"/><ellipse cx="276.8" cy="13.59" rx="0.8" ry="1.2" fill="#3a1040" opacity="1"/><ellipse cx="280.43" cy="26.42" rx="2.5" ry="1" fill="#3a1040" opacity="0.9"/><ellipse cx="287.69" cy="26.17" rx="1.5" ry="0.9" fill="#6a2868" opacity="0.7"/><ellipse cx="288.9" cy="11.17" rx="1.5" ry="1" fill="#a05040" opacity="0.5"/><ellipse cx="286.48" cy="20.85" rx="1.5" ry="1" fill="#a05040" opacity="0.4"/><ellipse cx="291.3" cy="16.5" rx="2.8" ry="2" fill="#120400"/></g><clipPath id="ct3"><rect x="303" y="2.7" width="24.7" height="24.2"/></clipPath><g clip-path="url(#ct3)"><rect x="303" y="2.7" width="24.7" height="24.2" fill="#c08a22"/><line x1="303" y1="7.54" x2="322.76" y2="26.9" stroke="#a87a20" stroke-width="1.2" opacity="0.6" stroke-linecap="round"/><line x1="307.94" y1="2.7" x2="327.7" y2="19.64" stroke="#e0b040" stroke-width="1.2" opacity="0.5" stroke-linecap="round"/><line x1="315.35" y1="2.7" x2="327.7" y2="12.38" stroke="#8a6a20" stroke-width="0.8" opacity="0.6" stroke-linecap="round"/><ellipse cx="303" cy="12.38" rx="0.8" ry="1.3" fill="#3a1040" opacity="1"/><ellipse cx="312.88" cy="9.96" rx="1.5" ry="0.8" fill="#a04060" opacity="0.6"/><ellipse cx="310.41" cy="20.85" rx="1.2" ry="0.8" fill="#a04060" opacity="0.5"/><ellipse cx="315.35" cy="25.69" rx="1" ry="1" fill="#8040a0" opacity="0.5"/><ellipse cx="318" cy="19.4" rx="3.8" ry="2.3" fill="#120400"/></g><clipPath id="ct4"><rect x="306.1" y="71.9" width="24.8" height="25.1"/></clipPath><g clip-path="url(#ct4)"><rect x="306.1" y="71.9" width="24.8" height="25.1" fill="#c47420"/><line x1="308.58" y1="74.41" x2="323.46" y2="94.49" stroke="#f0d040" stroke-width="1.3" opacity="0.8" stroke-linecap="round"/><line x1="313.54" y1="75.67" x2="320.98" y2="83.2" stroke="#f0c040" stroke-width="1" opacity="0.6" stroke-linecap="round"/><line x1="320.98" y1="76.92" x2="327.18" y2="86.96" stroke="#f8e060" stroke-width="1.2" opacity="0.8" stroke-linecap="round"/><line x1="306.1" y1="89.47" x2="316.02" y2="97" stroke="#e0a030" stroke-width="1" opacity="0.6" stroke-linecap="round"/><ellipse cx="309.82" cy="95.75" rx="1.2" ry="1.2" fill="#f8e060" opacity="0.9"/><ellipse cx="318.5" cy="94.49" rx="2" ry="1" fill="#f0c040" opacity="0.6"/><ellipse cx="321" cy="88.8" rx="3.1" ry="2.3" fill="#120400"/></g><clipPath id="ct5"><rect x="332.5" y="71.9" width="24.9" height="25.1"/></clipPath><g clip-path="url(#ct5)"><rect x="332.5" y="71.9" width="24.9" height="25.1" fill="#cc8620"/><line x1="332.5" y1="71.9" x2="349.93" y2="91.98" stroke="#f0d040" stroke-width="1.3" opacity="0.8" stroke-linecap="round"/><line x1="346.19" y1="71.9" x2="357.4" y2="81.94" stroke="#f8e060" stroke-width="1.2" opacity="0.8" stroke-linecap="round"/><line x1="349.93" y1="83.2" x2="354.91" y2="97" stroke="#f0c040" stroke-width="1" opacity="0.6" stroke-linecap="round"/><line x1="334.99" y1="84.45" x2="342.46" y2="94.49" stroke="#b07018" stroke-width="1" opacity="0.5" stroke-linecap="round"/><ellipse cx="336.24" cy="94.49" rx="1.2" ry="1.2" fill="#f8e060" opacity="0.9"/><ellipse cx="347.8" cy="87.2" rx="3.5" ry="3" fill="#120400"/></g><clipPath id="ct6"><rect x="357.6" y="71.9" width="24.9" height="25.1"/></clipPath><g clip-path="url(#ct6)"><rect x="357.6" y="71.9" width="24.9" height="25.1" fill="#c98a22"/><line x1="357.6" y1="84.45" x2="370.05" y2="79.43" stroke="#e8c048" stroke-width="1.5" opacity="0.7" stroke-linecap="round"/><line x1="367.56" y1="86.96" x2="380.01" y2="79.43" stroke="#e8c048" stroke-width="1.5" opacity="0.6" stroke-linecap="round"/><line x1="360.09" y1="76.92" x2="365.07" y2="74.41" stroke="#b07820" stroke-width="1.2" opacity="0.6" stroke-linecap="round"/><ellipse cx="361.34" cy="76.92" rx="2" ry="1.5" fill="#f0c850" opacity="0.6"/><ellipse cx="372.54" cy="78.18" rx="2.5" ry="1.5" fill="#f0c850" opacity="0.6"/><ellipse cx="377.52" cy="86.96" rx="2" ry="1.5" fill="#b07820" opacity="0.5"/><ellipse cx="367.56" cy="84.45" rx="2" ry="1.2" fill="#b07820" opacity="0.5"/><ellipse cx="361.34" cy="89.47" rx="2" ry="1.5" fill="#e8b840" opacity="0.6"/><ellipse cx="357.6" cy="80.69" rx="0.9" ry="1.5" fill="#301030" opacity="1"/><ellipse cx="372.8" cy="89.7" rx="5" ry="3.8" fill="#120400"/></g><rect x="250.8" y="3" width="131.8" height="94.5" fill="none" stroke="#7a7a7a" stroke-width="1.1"/><line x1="249" y1="97.4" x2="250.8" y2="97.4" stroke="#7a7a7a" stroke-width="0.8"/><text x="247.9" y="99.7" text-anchor="end" font-size="6.6" font-weight="normal" font-family="'Liberation Sans', sans-serif" fill="#222"  stroke="#222" stroke-width="0.12">0.0</text><line x1="249" y1="73.8" x2="250.8" y2="73.8" stroke="#7a7a7a" stroke-width="0.8"/><text x="247.9" y="76.1" text-anchor="end" font-size="6.6" font-weight="normal" font-family="'Liberation Sans', sans-serif" fill="#222"  stroke="#222" stroke-width="0.12">0.1</text><line x1="249" y1="50.2" x2="250.8" y2="50.2" stroke="#7a7a7a" stroke-width="0.8"/><text x="247.9" y="52.5" text-anchor="end" font-size="6.6" font-weight="normal" font-family="'Liberation Sans', sans-serif" fill="#222"  stroke="#222" stroke-width="0.12">0.2</text><line x1="249" y1="26.6" x2="250.8" y2="26.6" stroke="#7a7a7a" stroke-width="0.8"/><text x="247.9" y="28.9" text-anchor="end" font-size="6.6" font-weight="normal" font-family="'Liberation Sans', sans-serif" fill="#222"  stroke="#222" stroke-width="0.12">0.3</text><line x1="249" y1="3" x2="250.8" y2="3" stroke="#7a7a7a" stroke-width="0.8"/><text x="247.9" y="5.3" text-anchor="end" font-size="6.6" font-weight="normal" font-family="'Liberation Sans', sans-serif" fill="#222"  stroke="#222" stroke-width="0.12">0.4</text><line x1="249.6" y1="85.6" x2="250.8" y2="85.6" stroke="#7a7a7a" stroke-width="0.7"/><line x1="249.6" y1="62" x2="250.8" y2="62" stroke="#7a7a7a" stroke-width="0.7"/><line x1="249.6" y1="38.4" x2="250.8" y2="38.4" stroke="#7a7a7a" stroke-width="0.7"/><line x1="249.6" y1="14.8" x2="250.8" y2="14.8" stroke="#7a7a7a" stroke-width="0.7"/><line x1="258.6" y1="97.5" x2="258.6" y2="99.3" stroke="#7a7a7a" stroke-width="0.8"/><text x="258.6" y="106.2" text-anchor="middle" font-size="6.6" font-weight="normal" font-family="'Liberation Sans', sans-serif" fill="#222"  stroke="#222" stroke-width="0.12">4</text><line x1="274.06" y1="97.5" x2="274.06" y2="99.3" stroke="#7a7a7a" stroke-width="0.8"/><text x="274.06" y="106.2" text-anchor="middle" font-size="6.6" font-weight="normal" font-family="'Liberation Sans', sans-serif" fill="#222"  stroke="#222" stroke-width="0.12">6</text><line x1="289.52" y1="97.5" x2="289.52" y2="99.3" stroke="#7a7a7a" stroke-width="0.8"/><text x="289.52" y="106.2" text-anchor="middle" font-size="6.6" font-weight="normal" font-family="'Liberation Sans', sans-serif" fill="#222"  stroke="#222" stroke-width="0.12">8</text><line x1="304.98" y1="97.5" x2="304.98" y2="99.3" stroke="#7a7a7a" stroke-width="0.8"/><text x="304.98" y="106.2" text-anchor="middle" font-size="6.6" font-weight="normal" font-family="'Liberation Sans', sans-serif" fill="#222"  stroke="#222" stroke-width="0.12">10</text><line x1="320.44" y1="97.5" x2="320.44" y2="99.3" stroke="#7a7a7a" stroke-width="0.8"/><text x="320.44" y="106.2" text-anchor="middle" font-size="6.6" font-weight="normal" font-family="'Liberation Sans', sans-serif" fill="#222"  stroke="#222" stroke-width="0.12">12</text><line x1="335.9" y1="97.5" x2="335.9" y2="99.3" stroke="#7a7a7a" stroke-width="0.8"/><text x="335.9" y="106.2" text-anchor="middle" font-size="6.6" font-weight="normal" font-family="'Liberation Sans', sans-serif" fill="#222"  stroke="#222" stroke-width="0.12">14</text><line x1="351.36" y1="97.5" x2="351.36" y2="99.3" stroke="#7a7a7a" stroke-width="0.8"/><text x="351.36" y="106.2" text-anchor="middle" font-size="6.6" font-weight="normal" font-family="'Liberation Sans', sans-serif" fill="#222"  stroke="#222" stroke-width="0.12">16</text><line x1="366.82" y1="97.5" x2="366.82" y2="99.3" stroke="#7a7a7a" stroke-width="0.8"/><text x="366.82" y="106.2" text-anchor="middle" font-size="6.6" font-weight="normal" font-family="'Liberation Sans', sans-serif" fill="#222"  stroke="#222" stroke-width="0.12">18</text><line x1="382.28" y1="97.5" x2="382.28" y2="99.3" stroke="#7a7a7a" stroke-width="0.8"/><text x="382.28" y="106.2" text-anchor="middle" font-size="6.6" font-weight="normal" font-family="'Liberation Sans', sans-serif" fill="#222"  stroke="#222" stroke-width="0.12">20</text><line x1="266.33" y1="97.5" x2="266.33" y2="98.7" stroke="#7a7a7a" stroke-width="0.7"/><line x1="281.79" y1="97.5" x2="281.79" y2="98.7" stroke="#7a7a7a" stroke-width="0.7"/><line x1="297.25" y1="97.5" x2="297.25" y2="98.7" stroke="#7a7a7a" stroke-width="0.7"/><line x1="312.71" y1="97.5" x2="312.71" y2="98.7" stroke="#7a7a7a" stroke-width="0.7"/><line x1="328.17" y1="97.5" x2="328.17" y2="98.7" stroke="#7a7a7a" stroke-width="0.7"/><line x1="343.63" y1="97.5" x2="343.63" y2="98.7" stroke="#7a7a7a" stroke-width="0.7"/><line x1="359.09" y1="97.5" x2="359.09" y2="98.7" stroke="#7a7a7a" stroke-width="0.7"/><line x1="374.55" y1="97.5" x2="374.55" y2="98.7" stroke="#7a7a7a" stroke-width="0.7"/><text transform="translate(233.2 49.9) rotate(-90)" x="0" y="2.9" text-anchor="middle" font-size="8.1" font-family="'Liberation Sans', sans-serif" fill="#2a2a2a" stroke="#2a2a2a" stroke-width="0.12">Domain Size (μm)</text><text x="317.2" y="117.8" text-anchor="middle" font-size="8.5" font-weight="normal" font-family="'Liberation Sans', sans-serif" fill="#222"  stroke="#222" stroke-width="0.12">U (V)</text><line x1="258.4" y1="27.4" x2="258.4" y2="74" stroke="#b777f2" stroke-width="0.8" stroke-dasharray="1 1.4"/><path d="M258.4 74 L257.1 71.8 L259.7 71.8 Z" fill="#b777f2"/><line x1="287.7" y1="27.4" x2="282.2" y2="62" stroke="#b777f2" stroke-width="0.8" stroke-dasharray="1 1.4"/><path d="M282.2 62 L281.26 59.62 L283.83 60.03 Z" fill="#b777f2"/><line x1="315.5" y1="27.4" x2="306.2" y2="50" stroke="#b777f2" stroke-width="0.8" stroke-dasharray="1 1.4"/><path d="M306.2 50 L305.84 47.47 L308.24 48.46 Z" fill="#b777f2"/><line x1="319.4" y1="71.2" x2="327.2" y2="56.5" stroke="#b777f2" stroke-width="0.8" stroke-dasharray="1 1.4"/><path d="M327.2 56.5 L327.32 59.05 L325.02 57.83 Z" fill="#b777f2"/><line x1="345.4" y1="71.5" x2="345.2" y2="43.5" stroke="#b777f2" stroke-width="0.8" stroke-dasharray="1 1.4"/><path d="M345.2 43.5 L346.52 45.69 L343.92 45.71 Z" fill="#b777f2"/><line x1="375.3" y1="71.5" x2="375.1" y2="29.5" stroke="#b777f2" stroke-width="0.8" stroke-dasharray="1 1.4"/><path d="M375.1 29.5 L376.41 31.69 L373.81 31.71 Z" fill="#b777f2"/><rect x="256.5" y="75.48" width="4.2" height="4.2" fill="#b777f2"/><rect x="264.23" y="75" width="4.2" height="4.2" fill="#b777f2"/><rect x="271.96" y="65.8" width="4.2" height="4.2" fill="#b777f2"/><rect x="279.69" y="62.97" width="4.2" height="4.2" fill="#b777f2"/><rect x="287.42" y="59.9" width="4.2" height="4.2" fill="#b777f2"/><rect x="295.15" y="59.66" width="4.2" height="4.2" fill="#b777f2"/><rect x="302.88" y="50.46" width="4.2" height="4.2" fill="#b777f2"/><rect x="310.61" y="55.65" width="4.2" height="4.2" fill="#b777f2"/><rect x="318.34" y="48.57" width="4.2" height="4.2" fill="#b777f2"/><rect x="326.07" y="51.64" width="4.2" height="4.2" fill="#b777f2"/><rect x="333.8" y="45.74" width="4.2" height="4.2" fill="#b777f2"/><rect x="341.53" y="39.13" width="4.2" height="4.2" fill="#b777f2"/><rect x="349.26" y="37.95" width="4.2" height="4.2" fill="#b777f2"/><rect x="364.72" y="30.4" width="4.2" height="4.2" fill="#b777f2"/><rect x="372.45" y="24.97" width="4.2" height="4.2" fill="#b777f2"/><line x1="258.2" y1="77.3" x2="373.5" y2="30.1" stroke="#8a38e6" stroke-width="1.45"/><path d="M375.2 29.4 L371.6 29.3 L372.8 32.3 Z" fill="#8a38e6"/><text x="380.8" y="12.6" text-anchor="end" font-size="8.6" font-weight="normal" font-family="'Liberation Sans', sans-serif" fill="#b777f2"  stroke="#b777f2" stroke-width="0.12">0.5 μm</text><text x="266.4" y="215.2" text-anchor="start" font-size="6.8" font-weight="normal" font-family="'Liberation Sans', sans-serif" fill="#f8a848"  stroke="#f8a848" stroke-width="0.12">Slope=0.519</text><clipPath id="ca"><rect x="250.4" y="133.5" width="24.1" height="23.2"/></clipPath><g clip-path="url(#ca)"><rect x="250.4" y="133.5" width="24.1" height="23.2" fill="#0c0520"/><line x1="256.96" y1="133.5" x2="254.36" y2="156.7" stroke="#802080" stroke-width="1.15" opacity="0.55"/><line x1="263.21" y1="133.5" x2="265.48" y2="156.7" stroke="#4a1870" stroke-width="1.05" opacity="0.55"/><line x1="273.78" y1="133.5" x2="276.06" y2="156.7" stroke="#4a1870" stroke-width="1.32" opacity="0.55"/><line x1="256.75" y1="133.5" x2="255.56" y2="156.7" stroke="#4a1870" stroke-width="0.93" opacity="0.55"/><line x1="272.99" y1="133.5" x2="271.36" y2="156.7" stroke="#4a1870" stroke-width="0.86" opacity="0.55"/><line x1="270.31" y1="133.5" x2="271.81" y2="156.7" stroke="#4a1870" stroke-width="0.95" opacity="0.55"/><line x1="257.1" y1="133.5" x2="259.87" y2="156.7" stroke="#4a1870" stroke-width="1.05" opacity="0.55"/><path d="M250.4 149 L256 155 M250.4 152 L255 157 M252 147 L260 156 M250.4 145 L254 150 M255 148 L262 157" stroke="#d85a40" stroke-width="0.8" opacity="0.85"/><path d="M250.4 157 L250.4 151 L255 157 Z" fill="#e07030"/><line x1="253" y1="133.5" x2="252" y2="157" stroke="#902890" stroke-width="1.2" opacity="0.7"/><ellipse cx="265.1" cy="146.2" rx="3.6" ry="4.3" fill="#e08a30" opacity="0.6"/><ellipse cx="265.1" cy="146.2" rx="2.9" ry="3.6" fill="#f2dc40"/></g><clipPath id="cb"><rect x="276.1" y="133.5" width="23.4" height="23.2"/></clipPath><g clip-path="url(#cb)"><rect x="276.1" y="133.5" width="23.4" height="23.2" fill="#0c0520"/><line x1="293.01" y1="133.5" x2="290.47" y2="156.7" stroke="#802080" stroke-width="0.74" opacity="0.55"/><line x1="296.1" y1="133.5" x2="299" y2="156.7" stroke="#802080" stroke-width="1.06" opacity="0.55"/><line x1="278.34" y1="133.5" x2="275.99" y2="156.7" stroke="#4a1870" stroke-width="1.1" opacity="0.55"/><line x1="292.07" y1="133.5" x2="290.28" y2="156.7" stroke="#4a1870" stroke-width="0.73" opacity="0.55"/><line x1="291.96" y1="133.5" x2="291.26" y2="156.7" stroke="#802080" stroke-width="1.09" opacity="0.55"/><line x1="297.66" y1="133.5" x2="295.69" y2="156.7" stroke="#802080" stroke-width="1.36" opacity="0.55"/><line x1="298.16" y1="133.5" x2="296.82" y2="156.7" stroke="#4a1870" stroke-width="1.29" opacity="0.55"/><path d="M285.6 139.4 Q289 139 292.6 140 Q297 143.5 298.8 146.2 Q297 150 294.2 152.4 Q291 153.3 288.8 152.6 Q284 150 282.4 146.5 Q283 141.5 285.6 139.4 Z" fill="#f4e048" stroke="#f0c030" stroke-width="0.5"/></g><clipPath id="cc"><rect x="300.9" y="133.5" width="23.8" height="23.2"/></clipPath><g clip-path="url(#cc)"><rect x="300.9" y="133.5" width="23.8" height="23.2" fill="#0c0520"/><line x1="312.58" y1="133.5" x2="310.22" y2="156.7" stroke="#4a1870" stroke-width="1.04" opacity="0.55"/><line x1="304.49" y1="133.5" x2="305.57" y2="156.7" stroke="#4a1870" stroke-width="0.66" opacity="0.55"/><line x1="307.99" y1="133.5" x2="306.04" y2="156.7" stroke="#4a1870" stroke-width="0.74" opacity="0.55"/><line x1="306.15" y1="133.5" x2="303.39" y2="156.7" stroke="#802080" stroke-width="1.17" opacity="0.55"/><line x1="307.34" y1="133.5" x2="309.12" y2="156.7" stroke="#4a1870" stroke-width="0.98" opacity="0.55"/><line x1="318.41" y1="133.5" x2="321.07" y2="156.7" stroke="#4a1870" stroke-width="0.81" opacity="0.55"/><line x1="318.14" y1="133.5" x2="320.39" y2="156.7" stroke="#4a1870" stroke-width="1.16" opacity="0.55"/><path d="M303.2 148 Q306 140 313 138.5 Q320 138.5 322.5 144 Q323.5 152 317 154.5 Q310 155.5 306 152 Q304 150 303.2 148 Z" fill="#f2da48" stroke="#f0c030" stroke-width="0.5"/><ellipse cx="312.9" cy="145.7" rx="2.6" ry="1.9" fill="#b05820"/></g><clipPath id="cd"><rect x="309.1" y="199.8" width="24.3" height="23.3"/></clipPath><g clip-path="url(#cd)"><rect x="309.1" y="199.8" width="24.3" height="23.3" fill="#0c0520"/><line x1="302.31" y1="199.8" x2="325.61" y2="223.1" stroke="#802080" stroke-width="1.13" opacity="0.6"/><line x1="318.28" y1="199.8" x2="341.58" y2="223.1" stroke="#802080" stroke-width="1.4" opacity="0.6"/><line x1="299.15" y1="199.8" x2="322.45" y2="223.1" stroke="#802080" stroke-width="0.73" opacity="0.6"/><line x1="304.33" y1="199.8" x2="327.63" y2="223.1" stroke="#5a2080" stroke-width="1.43" opacity="0.6"/><line x1="328.77" y1="199.8" x2="352.07" y2="223.1" stroke="#4a1870" stroke-width="0.91" opacity="0.6"/><line x1="306.32" y1="199.8" x2="329.62" y2="223.1" stroke="#5a2080" stroke-width="0.81" opacity="0.6"/><line x1="287.4" y1="199.8" x2="310.7" y2="223.1" stroke="#5a2080" stroke-width="1.1" opacity="0.6"/><line x1="329.15" y1="199.8" x2="352.45" y2="223.1" stroke="#4a1870" stroke-width="1.4" opacity="0.6"/><line x1="330.53" y1="199.8" x2="353.83" y2="223.1" stroke="#5a2080" stroke-width="0.96" opacity="0.6"/><path d="M318 200.5 Q328 203 333 212 Q333 220 328 223 L318 223 Q312 219 311 211 Q313 203 318 200.5 Z" fill="#e2b52a"/><path d="M311 210 L322 222 M312 212.5 L321 222.5 M310.5 207.5 L323 221 M313 215 L319 222" stroke="#2a1030" stroke-width="0.7"/></g><clipPath id="ce"><rect x="335" y="199.8" width="23.9" height="23.3"/></clipPath><g clip-path="url(#ce)"><rect x="335" y="199.8" width="23.9" height="23.3" fill="#0c0520"/><line x1="349.42" y1="199.8" x2="372.72" y2="223.1" stroke="#5a2080" stroke-width="1.18" opacity="0.6"/><line x1="317.64" y1="199.8" x2="340.94" y2="223.1" stroke="#4a1870" stroke-width="1.45" opacity="0.6"/><line x1="326" y1="199.8" x2="349.3" y2="223.1" stroke="#5a2080" stroke-width="1.01" opacity="0.6"/><line x1="312.69" y1="199.8" x2="335.99" y2="223.1" stroke="#4a1870" stroke-width="1.05" opacity="0.6"/><line x1="332.4" y1="199.8" x2="355.7" y2="223.1" stroke="#5a2080" stroke-width="0.98" opacity="0.6"/><line x1="352.5" y1="199.8" x2="375.8" y2="223.1" stroke="#802080" stroke-width="0.84" opacity="0.6"/><line x1="357.36" y1="199.8" x2="380.66" y2="223.1" stroke="#5a2080" stroke-width="1.22" opacity="0.6"/><line x1="318.59" y1="199.8" x2="341.89" y2="223.1" stroke="#4a1870" stroke-width="0.91" opacity="0.6"/><line x1="333.85" y1="199.8" x2="357.15" y2="223.1" stroke="#802080" stroke-width="1.04" opacity="0.6"/><path d="M346 204 Q353 203.5 356 210 Q357 217 352 221 Q346 222 342 218 Q339 215 338.5 211 Q341 206 346 204 Z" fill="#e2b52a"/><path d="M338 214 L344 220 M339 211.5 L346 219" stroke="#2a1030" stroke-width="0.7"/></g><clipPath id="cf"><rect x="359.9" y="199.8" width="24.5" height="23.3"/></clipPath><g clip-path="url(#cf)"><rect x="359.9" y="199.8" width="24.5" height="23.3" fill="#0c0520"/><line x1="376.74" y1="199.8" x2="400.04" y2="223.1" stroke="#802080" stroke-width="1.33" opacity="0.6"/><line x1="356.2" y1="199.8" x2="379.5" y2="223.1" stroke="#4a1870" stroke-width="1.4" opacity="0.6"/><line x1="375.69" y1="199.8" x2="398.99" y2="223.1" stroke="#4a1870" stroke-width="1.43" opacity="0.6"/><line x1="356.75" y1="199.8" x2="380.05" y2="223.1" stroke="#4a1870" stroke-width="1.36" opacity="0.6"/><line x1="343.46" y1="199.8" x2="366.76" y2="223.1" stroke="#4a1870" stroke-width="1.37" opacity="0.6"/><line x1="383.32" y1="199.8" x2="406.62" y2="223.1" stroke="#5a2080" stroke-width="0.77" opacity="0.6"/><line x1="340.04" y1="199.8" x2="363.34" y2="223.1" stroke="#5a2080" stroke-width="1.44" opacity="0.6"/><line x1="361.4" y1="199.8" x2="384.7" y2="223.1" stroke="#802080" stroke-width="0.79" opacity="0.6"/><line x1="369.06" y1="199.8" x2="392.36" y2="223.1" stroke="#5a2080" stroke-width="1.39" opacity="0.6"/><path d="M366 204 Q371 201 376 203 Q381 206 384.4 208 L384.4 218 Q378 223 372 223 Q364 221 361.5 212 Q362 207 366 204 Z" fill="#e2b52a"/><path d="M362 208 L373 221 M364 206.5 L375 219.5 M366 205 L377 218 M362.5 211 L370 221" stroke="#2a1030" stroke-width="0.7"/></g><rect x="250" y="133.2" width="134.5" height="92.7" fill="none" stroke="#7a7a7a" stroke-width="1.1"/><line x1="248.2" y1="226" x2="250" y2="226" stroke="#7a7a7a" stroke-width="0.8"/><text x="247.3" y="228.3" text-anchor="end" font-size="6.6" font-weight="normal" font-family="'Liberation Sans', sans-serif" fill="#222"  stroke="#222" stroke-width="0.12">0</text><line x1="248.2" y1="210.55" x2="250" y2="210.55" stroke="#7a7a7a" stroke-width="0.8"/><text x="247.3" y="212.85" text-anchor="end" font-size="6.6" font-weight="normal" font-family="'Liberation Sans', sans-serif" fill="#222"  stroke="#222" stroke-width="0.12">1</text><line x1="248.2" y1="195.1" x2="250" y2="195.1" stroke="#7a7a7a" stroke-width="0.8"/><text x="247.3" y="197.4" text-anchor="end" font-size="6.6" font-weight="normal" font-family="'Liberation Sans', sans-serif" fill="#222"  stroke="#222" stroke-width="0.12">2</text><line x1="248.2" y1="179.65" x2="250" y2="179.65" stroke="#7a7a7a" stroke-width="0.8"/><text x="247.3" y="181.95" text-anchor="end" font-size="6.6" font-weight="normal" font-family="'Liberation Sans', sans-serif" fill="#222"  stroke="#222" stroke-width="0.12">3</text><line x1="248.2" y1="164.2" x2="250" y2="164.2" stroke="#7a7a7a" stroke-width="0.8"/><text x="247.3" y="166.5" text-anchor="end" font-size="6.6" font-weight="normal" font-family="'Liberation Sans', sans-serif" fill="#222"  stroke="#222" stroke-width="0.12">4</text><line x1="248.2" y1="148.75" x2="250" y2="148.75" stroke="#7a7a7a" stroke-width="0.8"/><text x="247.3" y="151.05" text-anchor="end" font-size="6.6" font-weight="normal" font-family="'Liberation Sans', sans-serif" fill="#222"  stroke="#222" stroke-width="0.12">5</text><line x1="248.2" y1="133.3" x2="250" y2="133.3" stroke="#7a7a7a" stroke-width="0.8"/><text x="247.3" y="135.6" text-anchor="end" font-size="6.6" font-weight="normal" font-family="'Liberation Sans', sans-serif" fill="#222"  stroke="#222" stroke-width="0.12">6</text><line x1="248.8" y1="218.28" x2="250" y2="218.28" stroke="#7a7a7a" stroke-width="0.7"/><line x1="248.8" y1="202.82" x2="250" y2="202.82" stroke="#7a7a7a" stroke-width="0.7"/><line x1="248.8" y1="187.38" x2="250" y2="187.38" stroke="#7a7a7a" stroke-width="0.7"/><line x1="248.8" y1="171.93" x2="250" y2="171.93" stroke="#7a7a7a" stroke-width="0.7"/><line x1="248.8" y1="156.48" x2="250" y2="156.48" stroke="#7a7a7a" stroke-width="0.7"/><line x1="248.8" y1="141.03" x2="250" y2="141.03" stroke="#7a7a7a" stroke-width="0.7"/><line x1="276.26" y1="225.9" x2="276.26" y2="227.7" stroke="#7a7a7a" stroke-width="0.8"/><text x="276.26" y="234.5" text-anchor="middle" font-size="6.6" font-weight="normal" font-family="'Liberation Sans', sans-serif" fill="#222"  stroke="#222" stroke-width="0.12">2</text><line x1="309.12" y1="225.9" x2="309.12" y2="227.7" stroke="#7a7a7a" stroke-width="0.8"/><text x="309.12" y="234.5" text-anchor="middle" font-size="6.6" font-weight="normal" font-family="'Liberation Sans', sans-serif" fill="#222"  stroke="#222" stroke-width="0.12">4</text><line x1="341.98" y1="225.9" x2="341.98" y2="227.7" stroke="#7a7a7a" stroke-width="0.8"/><text x="341.98" y="234.5" text-anchor="middle" font-size="6.6" font-weight="normal" font-family="'Liberation Sans', sans-serif" fill="#222"  stroke="#222" stroke-width="0.12">6</text><line x1="374.84" y1="225.9" x2="374.84" y2="227.7" stroke="#7a7a7a" stroke-width="0.8"/><text x="374.84" y="234.5" text-anchor="middle" font-size="6.6" font-weight="normal" font-family="'Liberation Sans', sans-serif" fill="#222"  stroke="#222" stroke-width="0.12">8</text><line x1="259.83" y1="225.9" x2="259.83" y2="227.1" stroke="#7a7a7a" stroke-width="0.7"/><line x1="292.69" y1="225.9" x2="292.69" y2="227.1" stroke="#7a7a7a" stroke-width="0.7"/><line x1="325.55" y1="225.9" x2="325.55" y2="227.1" stroke="#7a7a7a" stroke-width="0.7"/><line x1="358.41" y1="225.9" x2="358.41" y2="227.1" stroke="#7a7a7a" stroke-width="0.7"/><text transform="translate(237.0 178.9) rotate(-90)" x="0" y="2.9" text-anchor="middle" font-size="8.1" font-family="'Liberation Sans', sans-serif" fill="#2a2a2a" stroke="#2a2a2a" stroke-width="0.12">Domain Size (μm)</text><text x="317.2" y="246.1" text-anchor="middle" font-size="8.5" font-weight="normal" font-family="'Liberation Sans', sans-serif" fill="#222"  stroke="#222" stroke-width="0.12">U (V)</text><line x1="259.8" y1="157" x2="259.8" y2="199.5" stroke="#f59a5a" stroke-width="0.8" stroke-dasharray="1 1.4"/><path d="M259.8 199.5 L258.5 197.3 L261.1 197.3 Z" fill="#f59a5a"/><line x1="289.3" y1="157.3" x2="306.6" y2="183.3" stroke="#f59a5a" stroke-width="0.8" stroke-dasharray="1 1.4"/><path d="M306.6 183.3 L304.3 182.19 L306.46 180.75 Z" fill="#f59a5a"/><line x1="312.5" y1="157.3" x2="323.6" y2="170.3" stroke="#f59a5a" stroke-width="0.8" stroke-dasharray="1 1.4"/><path d="M323.6 170.3 L321.18 169.47 L323.16 167.78 Z" fill="#f59a5a"/><line x1="320.5" y1="199.5" x2="339.4" y2="169.5" stroke="#f59a5a" stroke-width="0.8" stroke-dasharray="1 1.4"/><path d="M339.4 169.5 L339.33 172.05 L337.13 170.67 Z" fill="#f59a5a"/><line x1="348.6" y1="199.5" x2="357.8" y2="164.5" stroke="#f59a5a" stroke-width="0.8" stroke-dasharray="1 1.4"/><path d="M357.8 164.5 L358.5 166.96 L355.98 166.3 Z" fill="#f59a5a"/><line x1="376.4" y1="199.5" x2="376.1" y2="150.5" stroke="#f59a5a" stroke-width="0.8" stroke-dasharray="1 1.4"/><path d="M376.1 150.5 L377.41 152.69 L374.81 152.71 Z" fill="#f59a5a"/><circle cx="259.83" cy="202.82" r="2.6" fill="#f7a23a"/><circle cx="276.26" cy="199.74" r="2.6" fill="#f7a23a"/><circle cx="292.69" cy="191.24" r="2.6" fill="#f7a23a"/><circle cx="309.12" cy="186.29" r="2.6" fill="#f7a23a"/><circle cx="325.55" cy="172.08" r="2.6" fill="#f7a23a"/><circle cx="341.98" cy="165.75" r="2.6" fill="#f7a23a"/><circle cx="358.41" cy="162.66" r="2.6" fill="#f7a23a"/><circle cx="374.84" cy="146.12" r="2.6" fill="#f7a23a"/><line x1="258.9" y1="206.4" x2="373.2" y2="151.5" stroke="#f07a32" stroke-width="1.45"/><path d="M375 150.6 L371.3 150.7 L372.6 153.6 Z" fill="#f07a32"/><text x="382.2" y="141.1" text-anchor="end" font-size="8.6" font-weight="normal" font-family="'Liberation Sans', sans-serif" fill="#f7a23a"  stroke="#f7a23a" stroke-width="0.12">9 μm</text></svg></body></html>
